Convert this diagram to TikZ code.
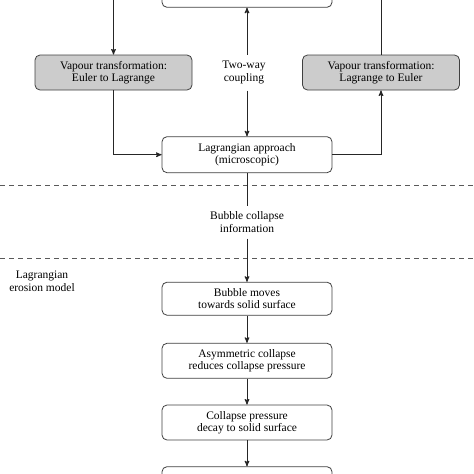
\documentclass[tikz,border=0pt]{standalone}
\usepackage{fontspec}
\setmainfont{Liberation Serif}
\usetikzlibrary{arrows}

\begin{document}
\begin{tikzpicture}[x=1pt,y=-1pt,
proc/.style={draw=black!75,line width=0.8pt,rounded corners=5pt,fill=#1,
  minimum width=170pt,minimum height=35pt,inner sep=0pt,align=center},
proc/.default=white,
trans/.style={proc=black!20,minimum width=157pt},
sep/.style={draw=black!65,line width=0.8pt,dash pattern=on 5pt off 4pt},
>=stealth',line width=1pt,black!85,text=black,
font=\fontsize{11.5}{12.5}\selectfont]
\useasboundingbox (0,0) rectangle (474,474);
\clip (0,0) rectangle (474,474);
% Euler-Lagrange coupling
\node[proc,minimum height=36pt] (euler) at (247,-10.7) {};
\node[trans] (eul2lag) at (113.5,72.5) {Vapour transformation:\\Euler to Lagrange};
\node[trans] (lag2eul) at (381,72.5) {Vapour transformation:\\Lagrange to Euler};
\node[minimum height=35pt,inner sep=0pt,align=center] (coupling) at (244,72.5) {Two-way\\coupling};
\node[proc,minimum height=36pt] (lagr) at (247,154.7) {Lagrangian approach\\(microscopic)};
\draw [->] (euler.west) -| (eul2lag.north);
\draw [->] (eul2lag.south) |- (lagr.west);
\draw [->] (lagr.east) -| (lag2eul.south);
\draw [->] (lag2eul.north) |- (euler.east);
\draw [->] (euler.south |- coupling.north) -- (euler.south);
\draw [->] (lagr.north |- coupling.south) -- (lagr.north);
% separators
\draw [sep] (0,185.5) -- (474,185.5);
\draw [sep] (0,258) -- (474,258);
\node[minimum height=32pt,inner sep=0pt,align=center] (info) at (247,222) {Bubble collapse\\information};
\node[align=center] (erosion) at (42,281) {Lagrangian\\erosion model};
% erosion model
\node[proc,minimum height=33pt] (moves) at (247,298.7) {Bubble moves\\towards solid surface};
\node[proc] (asym) at (247,360.8) {Asymmetric collapse\\reduces collapse pressure};
\node[proc] (decay) at (247,422.5) {Collapse pressure\\decay to solid surface};
\node[proc] (last) at (247,484.2) {};
\draw (lagr.south) -- (info.north);
\draw [->] (info.south) -- (moves.north);
\draw [->] (moves) -- (asym);
\draw [->] (asym) -- (decay);
\draw [->] (decay) -- (last);
\end{tikzpicture}
\end{document}
